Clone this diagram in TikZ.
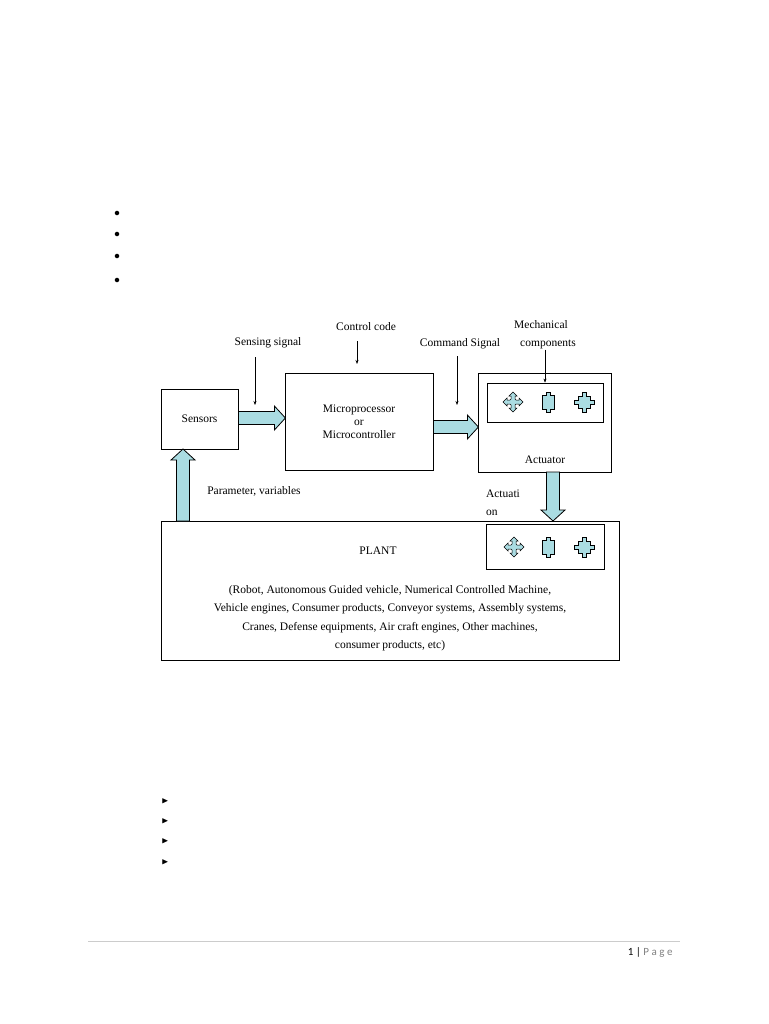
\documentclass[tikz,border=0pt]{standalone}
\usepackage{fontspec}
\setmainfont{Liberation Serif}
\newfontfamily\calib{Carlito}
\usepackage{amssymb}
\usetikzlibrary{arrows.meta}
\definecolor{lb}{RGB}{170,220,226}
\begin{document}
\begin{tikzpicture}[x=1pt,y=-1pt,
 box/.style={draw,thick,fill=white},
 pics/fat/.style={code={\draw[fill=lb,thick] (0,-6.5)--(#1-11,-6.5)--(#1-11,-12)--(#1,0)--(#1-11,12)--(#1-11,6.5)--(0,6.5)--cycle;}},
 sarrow/.style={-{Stealth[length=4pt]},line width=0.5pt},
 lab/.style={font=\fontsize{11.5}{13}\selectfont,inner sep=1pt},
 pics/quad/.style={code={\draw[fill=lb,line width=0.5pt] (-2,-3)--(-2,-6)--(-4,-6)--(0,-10)--(4,-6)--(2,-6)--(2,-3)--(3,-2)--(6,-2)--(6,-4)--(10,0)--(6,4)--(6,2)--(3,2)--(2,3)--(2,6)--(4,6)--(0,10)--(-4,6)--(-2,6)--(-2,3)--(-3,2)--(-6,2)--(-6,4)--(-10,0)--(-6,-4)--(-6,-2)--(-3,-2)--cycle;}},
 pics/block/.style={code={\draw[fill=lb,line width=0.5pt] (-2,-10)--(2,-10)--(2,-7)--(6,-7)--(6,7)--(2,7)--(2,10)--(-2,10)--(-2,7)--(-6,7)--(-6,-7)--(-2,-7)--cycle;}},
 pics/step/.style={code={\draw[fill=lb,line width=0.5pt] (-2,-10)--(2,-10)--(2,-6)--(6,-6)--(6,-2)--(10,-2)--(10,2)--(6,2)--(6,6)--(2,6)--(2,10)--(-2,10)--(-2,6)--(-6,6)--(-6,2)--(-10,2)--(-10,-2)--(-6,-2)--(-6,-6)--(-2,-6)--cycle;}}]
\useasboundingbox (0,0) rectangle (768,1024);
% bullets
\foreach \y/\n in {213/b1,234/b2,256/b3,280/b4}{\node[circle,fill,inner sep=1.6pt] (\n) at (117,\y) {};}
\foreach \y/\n in {801/c1,821/c2,841/c3,862/c4}{\node[inner sep=0pt,font=\small] (\n) at (165,\y) {$\blacktriangleright$};}
% boxes
\node[box,minimum width=77pt,minimum height=60pt] (sen) at (199.5,419) {};
\node[lab] (sent) at (sen) {Sensors};
\node[box,minimum width=148pt,minimum height=97pt] (mic) at (359,421.5) {};
\node[lab,align=center] (mict) at (mic) {Microprocessor\\or\\Microcontroller};
\node[box,minimum width=133pt,minimum height=99pt] (act) at (544.5,422.5) {};
\node[box,minimum width=116pt,minimum height=39pt] (actin) at (545,402.5) {};
\node[lab] (actt) at (545,460) {Actuator};
\node[box,minimum width=458pt,minimum height=139pt] (pl) at (390,590.5) {};
\node[box,minimum width=118pt,minimum height=45pt] (plin) at (545,546.5) {};
\node[lab] (plt) at (378,551) {PLANT};
\node[lab,align=center,font=\fontsize{11.5}{18.5}\selectfont] (pltext) at (390,618) {(Robot, Autonomous Guided vehicle, Numerical Controlled Machine,\\Vehicle engines, Consumer products, Conveyor systems, Assembly systems,\\Cranes, Defense equipments, Air craft engines, Other machines,\\consumer products, etc)};
% icons
\pic at (513,402) {quad}; \pic at (548,402) {block}; \pic at (584,402) {step};
\pic at (514,547) {quad}; \pic at (548,547) {block}; \pic at (584,547) {step};
% fat arrows (from box edge to box edge)
\pic at (sen.east|-0,418) {fat=47};
\pic at (mic.east|-0,427) {fat=45};
\pic[rotate=90] at (183,521) {fat=72};
\pic[rotate=-90] at (553,472) {fat=49};
% labels & thin arrows
\node[lab] (ss) at (268,343) {Sensing signal};
\node[lab] (cc) at (366,327) {Control code};
\node[lab] (cs) at (460,344) {Command Signal};
\node[lab] (mc1) at (541,325) {Mechanical};
\node[lab] (mc2) at (548,344) {components};
\node[lab] (pv) at (254,491) {Parameter, variables};
\node[lab,align=left,font=\fontsize{11.5}{18}\selectfont] (ac) at (503,503) {Actuati\\on};
\coordinate (t1) at (255,357); \coordinate (h1) at (255,405);
\coordinate (t2) at (357,341); \coordinate (h2) at (357,364);
\coordinate (t3) at (457,356); \coordinate (h3) at (457,405);
\draw[sarrow] (t1)--(h1); \draw[sarrow] (t2)--(h2); \draw[sarrow] (t3)--(h3);
\draw[sarrow] (mc2.south-|actin.north) -- (actin.north);
% footer
\coordinate (f1) at (88,941); \coordinate (f2) at (680,941);
\draw[gray!40] (f1)--(f2);
\node[font=\calib\fontsize{11}{12}\selectfont,anchor=east] (pg) at (676,952) {1 | \textcolor{gray}{P a g e}};
\end{tikzpicture}
\end{document}
